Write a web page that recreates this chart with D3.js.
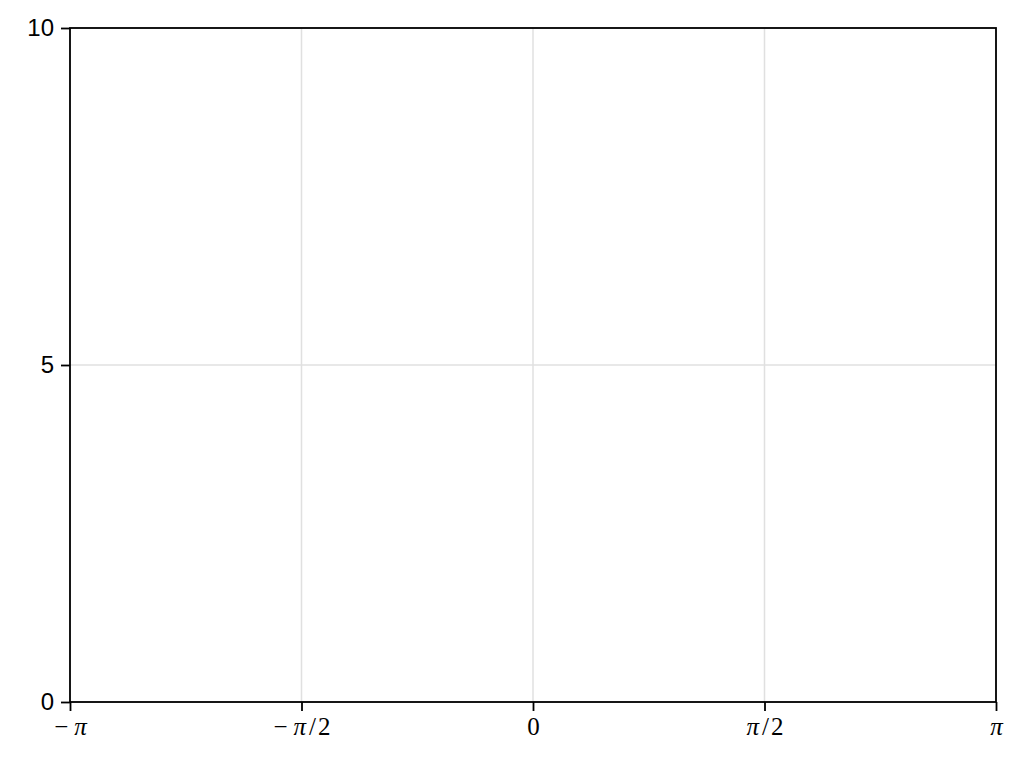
<!DOCTYPE html>
<html>
<head>
<meta charset="utf-8">
<script src="https://cdn.jsdelivr.net/npm/d3@7"></script>
<style>
  body { margin: 0; background: #fff; }
  .grid line { stroke: #e0e0e0; stroke-width: 1.5; }
  .axis path { display: none; }
  .axis line { stroke: #000; stroke-width: 1.8; }
  .y-axis text { font-family: "Liberation Sans", Arial, sans-serif; font-size: 24px; fill: #000; }
  .x-axis text { font-family: "Liberation Serif", "Times New Roman", serif; font-size: 25px; fill: #000; }
</style>
</head>
<body>
<svg id="chart"></svg>
<script>
// ticks and domains
const xDomain = [-Math.PI, Math.PI];
const yDomain = [0, 10];
const xTickValues = [-Math.PI, -Math.PI / 2, 0, Math.PI / 2, Math.PI];
// each label: [minus sign?, body, denominator]
const xTickLabels = [
    ['\u2212', '\u03c0', ''],
    ['\u2212', '\u03c0', '2'],
    ['', '0', ''],
    ['', '\u03c0', '2'],
    ['', '\u03c0', '']
];
const yTickValues = [0, 5, 10];

const config = {
    containerWidth: 1024,
    containerHeight: 768,
    margin: { top: 28, bottom: 66, right: 28, left: 70 }
};

const width = config.containerWidth - config.margin.left - config.margin.right;
const height = config.containerHeight - config.margin.top - config.margin.bottom;

const svg = d3.select('#chart')
    .attr('width', config.containerWidth)
    .attr('height', config.containerHeight);

const chart = svg.append('g')
    .attr('transform', `translate(${config.margin.left}, ${config.margin.top})`);

const xScale = d3.scaleLinear().domain(xDomain).range([0, width]);
const yScale = d3.scaleLinear().domain(yDomain).range([height, 0]);

// grid lines
chart.append('g')
    .attr('class', 'grid')
    .selectAll('line')
    .data(xTickValues)
    .join('line')
        .attr('x1', d => xScale(d)).attr('x2', d => xScale(d))
        .attr('y1', 0).attr('y2', height);

chart.append('g')
    .attr('class', 'grid')
    .selectAll('line')
    .data(yTickValues)
    .join('line')
        .attr('x1', 0).attr('x2', width)
        .attr('y1', d => yScale(d)).attr('y2', d => yScale(d));

// frame
chart.append('rect')
    .attr('width', width)
    .attr('height', height)
    .attr('fill', 'none')
    .attr('stroke', '#000')
    .attr('stroke-width', 1.8);

const xAxis = d3.axisBottom(xScale)
    .tickValues(xTickValues)
    .tickSize(9)
    .tickSizeOuter(0)
    .tickPadding(6)
    .tickFormat('');

const xAxisG = chart.append('g')
    .attr('class', 'axis x-axis')
    .attr('transform', `translate(0, ${height})`)
    .call(xAxis);

// rebuild the math-style labels with tspans (TeX-like spacing)
xAxisG.selectAll('.tick text')
    .each(function(d, i) {
        const [minus, body, denom] = xTickLabels[i];
        const t = d3.select(this);
        if (minus) t.append('tspan').text(minus);
        t.append('tspan')
            .attr('dx', minus ? 6 : 0)
            .style('font-style', body === '0' ? 'normal' : 'italic')
            .text(body);
        if (denom) {
            t.append('tspan').attr('dx', 3).text('/');
            t.append('tspan').attr('dx', 2).text(denom);
        }
    });

const yAxis = d3.axisLeft(yScale)
    .tickValues(yTickValues)
    .tickSize(9)
    .tickSizeOuter(0)
    .tickPadding(7)
    .tickFormat(d3.format('d'));

chart.append('g')
    .attr('class', 'axis y-axis')
    .call(yAxis);
</script>
</body>
</html>
